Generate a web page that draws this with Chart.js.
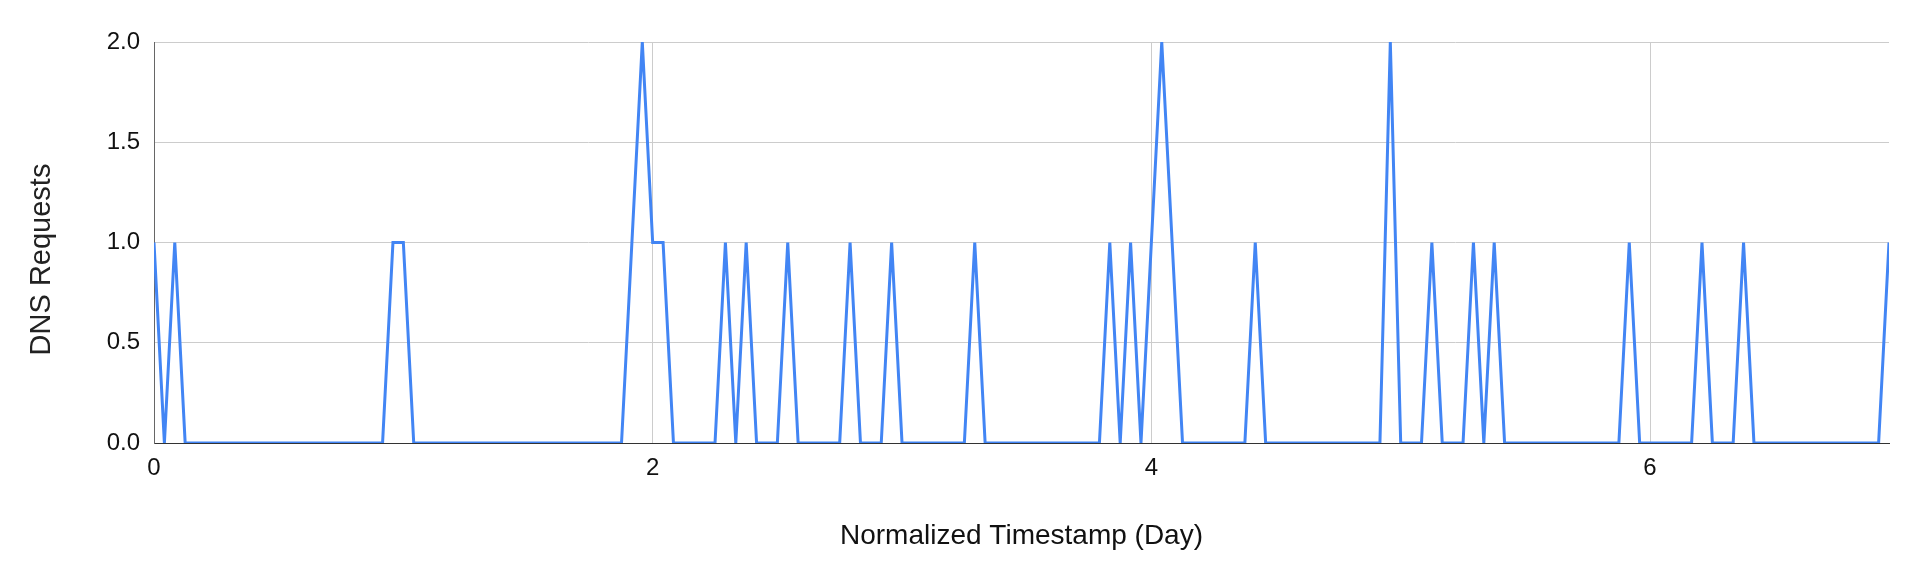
<!DOCTYPE html>
<html>
<head>
<meta charset="utf-8">
<script src="https://cdn.jsdelivr.net/npm/chart.js@4.4.1/dist/chart.umd.min.js"></script>
<style>
  html, body { margin: 0; padding: 0; background: #fff; }
  #wrap { width: 1920px; height: 580px; }
</style>
</head>
<body>
<div id="wrap"><canvas id="dnsChart" width="1920" height="580"></canvas></div>
<script>
// hourly DNS request counts, one row per day (24 hours each)
const dnsRequests = [
  1, 0, 1, 0, 0, 0, 0, 0, 0, 0, 0, 0, 0, 0, 0, 0, 0, 0, 0, 0, 0, 0, 0, 1,
  1, 0, 0, 0, 0, 0, 0, 0, 0, 0, 0, 0, 0, 0, 0, 0, 0, 0, 0, 0, 0, 0, 1, 2,
  1, 1, 0, 0, 0, 0, 0, 1, 0, 1, 0, 0, 0, 1, 0, 0, 0, 0, 0, 1, 0, 0, 0, 1,
  0, 0, 0, 0, 0, 0, 0, 1, 0, 0, 0, 0, 0, 0, 0, 0, 0, 0, 0, 0, 1, 0, 1, 0,
  1, 2, 1, 0, 0, 0, 0, 0, 0, 0, 1, 0, 0, 0, 0, 0, 0, 0, 0, 0, 0, 0, 0, 2,
  0, 0, 0, 1, 0, 0, 0, 1, 0, 1, 0, 0, 0, 0, 0, 0, 0, 0, 0, 0, 0, 0, 1, 0,
  0, 0, 0, 0, 0, 1, 0, 0, 0, 1, 0, 0, 0, 0, 0, 0, 0, 0, 0, 0, 0, 0, 0, 1
];
const hoursPerDay = 24;
const xTicks = [0, 2, 4, 6];
const yTicks = [0, 0.5, 1, 1.5, 2];
const yTitle = 'DNS Requests';
const xTitle = 'Normalized Timestamp (Day)';

// timestamp is hour index normalized to days
const points = dnsRequests.map((v, i) => ({ x: i / hoursPerDay, y: v }));

const fontFamily = '"Liberation Sans", Arial, Helvetica, sans-serif';

// y title sits a little below the plot centre in the original, so draw it by hand
const yTitlePlugin = {
  id: 'yTitle',
  afterDraw(chart) {
    const ctx = chart.ctx;
    const area = chart.chartArea;
    ctx.save();
    ctx.translate(42, (area.top + area.bottom) / 2 + 17);
    ctx.rotate(-Math.PI / 2);
    ctx.font = '29px ' + fontFamily;
    ctx.fillStyle = '#222';
    ctx.textAlign = 'center';
    ctx.textBaseline = 'middle';
    ctx.fillText(yTitle, 0, 0);
    ctx.restore();
  }
};

new Chart(document.getElementById('dnsChart'), {
  type: 'line',
  data: {
    datasets: [{
      label: yTitle,
      data: points,
      borderColor: '#4285F4',
      borderWidth: 3,
      pointRadius: 0,
      tension: 0,
      fill: false
    }]
  },
  options: {
    responsive: false,
    animation: false,
    devicePixelRatio: 1,
    layout: { padding: { left: 0, right: 31, top: 42, bottom: 27 } },
    plugins: {
      legend: { display: false },
      tooltip: { enabled: false }
    },
    scales: {
      x: {
        type: 'linear',
        min: 0,
        max: (dnsRequests.length - 1) / hoursPerDay,
        afterBuildTicks: (scale) => { scale.ticks = xTicks.map(v => ({ value: v })); },
        afterFit: (scale) => { scale.height = 110; },
        ticks: {
          padding: 11,
          color: '#111',
          font: { family: fontFamily, size: 24 },
          callback: (v) => String(v)
        },
        grid: { color: '#cccccc', lineWidth: 1, drawTicks: false },
        border: { color: '#333', width: 1 },
        title: {
          display: true,
          text: xTitle,
          color: '#111',
          font: { family: fontFamily, size: 28 },
          padding: 0
        }
      },
      y: {
        min: 0,
        max: 2,
        afterBuildTicks: (scale) => { scale.ticks = yTicks.map(v => ({ value: v })); },
        afterFit: (scale) => { scale.width = 154; },
        ticks: {
          padding: 14,
          color: '#111',
          font: { family: fontFamily, size: 24 },
          callback: (v) => Number(v).toFixed(1)
        },
        grid: { color: '#cccccc', lineWidth: 1, drawTicks: false },
        border: { color: '#666', width: 1 }
      }
    }
  },
  plugins: [yTitlePlugin]
});
</script>
</body>
</html>
